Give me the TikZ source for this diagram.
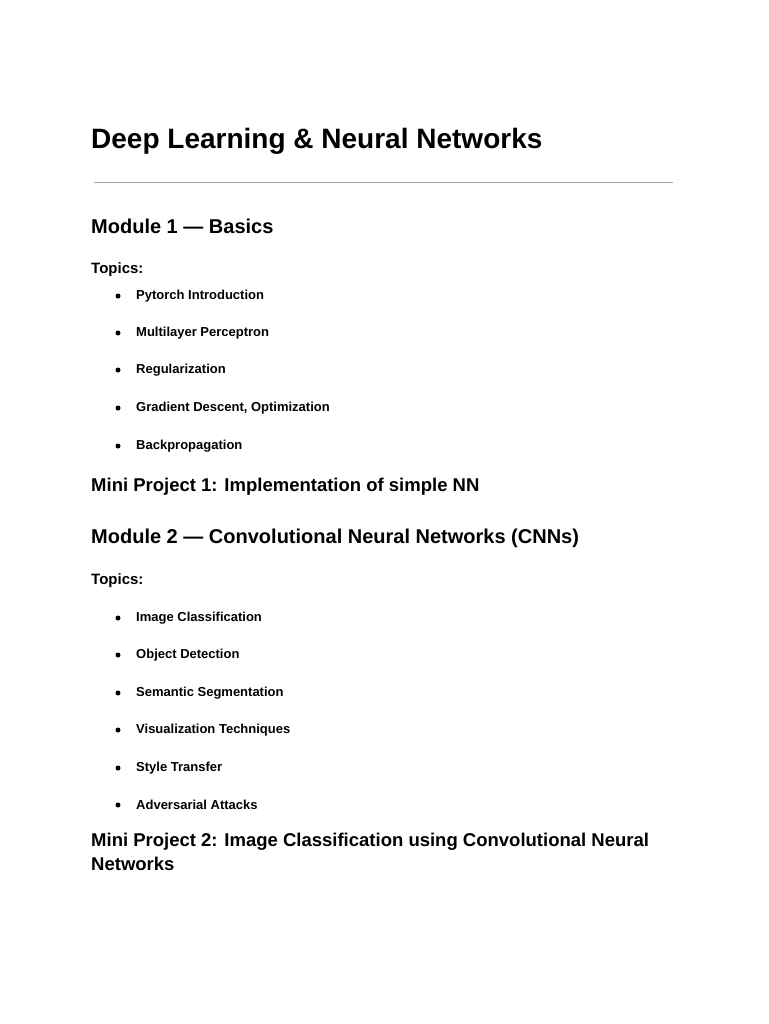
\documentclass[tikz,border=0pt]{standalone}
\usepackage{fontspec}
\setmainfont{Liberation Sans}
\begin{document}
\begin{tikzpicture}[x=1pt,y=-1pt,
  title/.style={anchor=west,inner sep=0pt,font=\fontsize{28}{32}\selectfont\bfseries},
  head/.style={anchor=west,inner sep=0pt,font=\fontsize{20}{24}\selectfont\bfseries},
  proj/.style={anchor=west,inner sep=0pt,font=\fontsize{18.5}{24}\selectfont\bfseries,align=left},
  topics/.style={anchor=west,inner sep=0pt,font=\fontsize{15}{18}\selectfont\bfseries},
  item/.style={anchor=west,inner sep=0pt,font=\fontsize{13}{16}\selectfont\bfseries},
  dot/.style={circle,fill=black,inner sep=0pt,minimum size=5pt}]
\useasboundingbox[fill=white] (0,0) rectangle (768,1024);
\node[title] (t) at (91,141) {Deep Learning \& Neural Networks};
\draw[gray!70,line width=0.8pt] (94,182) -- (673,182);
\node[head] (m1) at (91,226) {Module 1 — Basics};
\node[topics] (tp1) at (91,270) {Topics:};
\foreach \y/\txt [count=\i] in {296/Pytorch Introduction,333/Multilayer Perceptron,370/Regularization,408/{Gradient Descent, Optimization},446/Backpropagation}{
  \node[dot] (a\i) at (118,\y) {};
  \node[item] (ai\i) at (136,\y) {\txt};
}
\node[proj] (p1) at (91,487) {Mini Project 1: Implementation of simple NN};
\node[head] (m2) at (91,538) {Module 2 — Convolutional Neural Networks (CNNs)};
\node[topics] (tp2) at (91,581) {Topics:};
\foreach \y/\txt [count=\i] in {618/Image Classification,655/Object Detection,693/Semantic Segmentation,730/Visualization Techniques,768/Style Transfer,805/Adversarial Attacks}{
  \node[dot] (b\i) at (118,\y) {};
  \node[item] (bi\i) at (136,\y) {\txt};
}
\node[proj,anchor=north west] (p2) at (91,833) {Mini Project 2: Image Classification using Convolutional Neural\\[0pt]Networks};
\end{tikzpicture}
\end{document}
